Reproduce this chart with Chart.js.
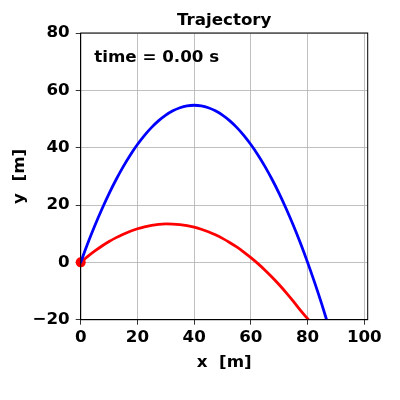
<!DOCTYPE html>
<html>
<head>
<meta charset="utf-8">
<script src="https://cdn.jsdelivr.net/npm/chart.js@4.4.0/dist/chart.umd.min.js"></script>
<style>
html,body{margin:0;padding:0;background:#fff;}
#wrap{width:400px;height:400px;}
</style>
</head>
<body>
<div id="wrap"><canvas id="c" width="400" height="400"></canvas></div>
<script>
// ---- data ----
const titleText = "Trajectory";
const timeText = "time = 0.00 s";
const xLabel = "x  [m]";
const yLabel = "y  [m]";
const xTicks = [0, 20, 40, 60, 80, 100];
const yTicks = [-20, 0, 20, 40, 60, 80];
const blueX = [0, 2.5, 5, 7.5, 10, 12.5, 15, 17.5, 20, 22.5, 25, 27.5, 30, 32.5, 35, 37.5, 40, 42.5, 45, 47.5, 50, 52.5, 55, 57.5, 60, 62.5, 65, 67.5, 70, 72.5, 75, 77.5, 80, 82.5, 85, 86.7];
const blueY = [0, 6.64, 12.84, 18.62, 23.98, 28.90, 33.39, 37.46, 41.10, 44.31, 47.09, 49.45, 51.38, 52.87, 53.94, 54.59, 54.8, 54.59, 53.94, 52.87, 51.38, 49.45, 47.09, 44.31, 41.10, 37.46, 33.39, 28.90, 23.98, 18.62, 12.84, 6.64, 0, -7.06, -14.56, -20];
const redX = [0, 2.5, 5, 7.5, 10, 12.5, 15, 17.5, 20, 22.5, 25, 27.5, 30, 32.5, 35, 37.5, 40, 42.5, 45, 47.5, 50, 52.5, 55, 57.5, 60, 62.5, 65, 67.5, 70, 72.5, 75, 77.5, 80.3];
const redY = [0, 2.07, 3.97, 5.70, 7.25, 8.63, 9.83, 10.86, 11.71, 12.39, 12.90, 13.23, 13.39, 13.37, 13.18, 12.81, 12.27, 11.56, 10.67, 9.60, 8.37, 6.95, 5.37, 3.61, 1.67, -0.44, -2.72, -5.18, -7.81, -10.62, -13.60, -16.75, -20];
const ballX = [0];
const ballY = [0];

const toPts = (xs, ys) => xs.map((x, i) => ({x: x, y: ys[i]}));

const FONT = "'DejaVu Sans', sans-serif";
const FS = 16.7;

const decor = {
  id: 'decor',
  afterDraw(chart) {
    const ctx = chart.ctx, a = chart.chartArea;
    ctx.save();
    ctx.strokeStyle = '#000';
    ctx.lineWidth = 1;
    ctx.strokeRect(a.left, a.top, a.right - a.left, a.bottom - a.top);
    ctx.fillStyle = '#000';
    ctx.font = "bold " + FS + "px " + FONT;
    ctx.textAlign = 'center';
    ctx.textBaseline = 'alphabetic';
    ctx.fillText(titleText, (a.left + a.right) / 2, 25);
    ctx.fillText(xLabel, (a.left + a.right) / 2, 367);
    ctx.save();
    ctx.translate(24, (a.top + a.bottom) / 2);
    ctx.rotate(-Math.PI / 2);
    ctx.fillText(yLabel, 0, 0);
    ctx.restore();
    ctx.textAlign = 'left';
    ctx.fillText(timeText, a.left + 13.5, 62);
    ctx.restore();
  }
};

const fmt = v => (v < 0 ? '\u2212' + Math.abs(v) : String(v));

new Chart(document.getElementById('c'), {
  type: 'scatter',
  data: {
    datasets: [
      {data: toPts(blueX, blueY), showLine: true, borderColor: '#0000ff', borderWidth: 2.8, pointRadius: 0, cubicInterpolationMode: 'monotone', borderCapStyle: 'round', borderJoinStyle: 'round', fill: false},
      {data: toPts(redX, redY), showLine: true, borderColor: '#ff0000', borderWidth: 2.8, pointRadius: 0, cubicInterpolationMode: 'monotone', borderCapStyle: 'round', borderJoinStyle: 'round', fill: false},
      {data: toPts(ballX, ballY), showLine: false, pointRadius: 5, pointBackgroundColor: '#ff0000', pointBorderColor: '#ff0000', pointBorderWidth: 0, clip: false}
    ]
  },
  options: {
    responsive: false,
    animation: false,
    devicePixelRatio: 1,
    layout: {padding: {left: 0, right: 32.3, top: 33, bottom: 0}},
    plugins: {legend: {display: false}, tooltip: {enabled: false}, title: {display: false}},
    scales: {
      x: {
        type: 'linear', min: 0, max: 101.2,
        afterBuildTicks: s => { s.ticks = xTicks.map(v => ({value: v})); },
        afterFit: s => { s.height = 80.3; },
        grid: {color: '#b0b0b0', lineWidth: 0.8, tickColor: '#000', tickLength: 5, drawOnChartArea: true},
        border: {display: true, color: '#000', width: 1},
        ticks: {color: '#000', font: {family: FONT, size: FS, weight: 'bold'}, padding: 3, maxRotation: 0, autoSkip: false, callback: fmt}
      },
      y: {
        type: 'linear', min: -20, max: 80,
        afterBuildTicks: s => { s.ticks = yTicks.map(v => ({value: v})); },
        afterFit: s => { s.width = 80.7; },
        grid: {color: '#b0b0b0', lineWidth: 0.8, tickColor: '#000', tickLength: 5},
        border: {display: true, color: '#000', width: 1},
        ticks: {color: '#000', font: {family: FONT, size: FS, weight: 'bold'}, padding: 6, autoSkip: false, callback: fmt}
      }
    }
  },
  plugins: [decor]
});
</script>
</body>
</html>
